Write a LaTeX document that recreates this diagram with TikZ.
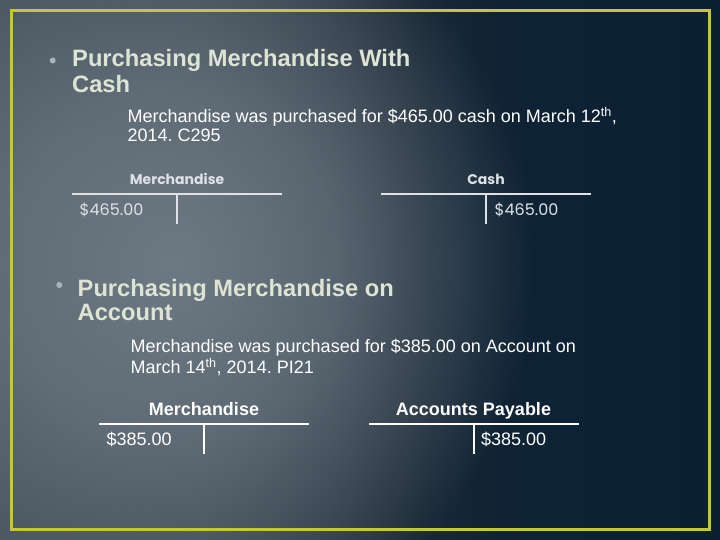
\documentclass[tikz,border=0pt]{standalone}
\usepackage{fontspec}
\setmainfont{Liberation Sans}
\newfontfamily\geofont{Poppins}
\usetikzlibrary{fadings}
\frenchspacing
\pgfdeclareradialshading{glowshade}{\pgfpoint{0bp}{0bp}}{color(0bp)=(white); color(11.25bp)=(white!72!black); color(25bp)=(black); color(50bp)=(black)}
\pgfdeclarefading{glowfade}{\pgfuseshading{glowshade}}
\definecolor{bgA}{RGB}{68,79,89}
\definecolor{bgB}{RGB}{56,68,79}
\definecolor{bgC}{RGB}{38,50,62}
\definecolor{bgD}{RGB}{26,40,54}
\definecolor{bgE}{RGB}{17,36,52}
\definecolor{bgF}{RGB}{13,34,52}
\definecolor{bgG}{RGB}{11,32,50}
\definecolor{glowcol}{RGB}{116,128,138}
\definecolor{headcol}{RGB}{221,228,212}
\definecolor{bulletcol}{RGB}{166,178,189}
\definecolor{framecol}{RGB}{198,198,62}
\definecolor{tgray}{RGB}{222,226,230}
\pgfdeclarehorizontalshading{bgshade}{100bp}{color(0bp)=(bgA); color(25bp)=(bgA); color(38.9bp)=(bgB); color(49.3bp)=(bgC); color(54.2bp)=(bgD); color(58.3bp)=(bgE); color(62.5bp)=(bgF); color(75bp)=(bgG); color(100bp)=(bgG)}
\begin{document}
\begin{tikzpicture}[x=1pt,y=-1pt,
  head/.style={font=\fontsize{23.7}{26}\selectfont\bfseries, text=headcol, anchor=base west, inner sep=0pt},
  body/.style={font=\fontsize{18}{20}\selectfont, text=white, anchor=base west, inner sep=0pt},
  geolabel/.style={font=\geofont\fontsize{14}{16}\selectfont\bfseries, text=tgray, anchor=base, inner sep=0pt},
  geoamt/.style={font=\geofont\fontsize{16}{18}\selectfont, text=tgray, anchor=base west, inner sep=0pt},
  arlabel/.style={font=\fontsize{18}{20}\selectfont\bfseries, text=white, anchor=base, inner sep=0pt},
  aramt/.style={font=\fontsize{18}{20}\selectfont, text=white, anchor=base west, inner sep=0pt},
  tthin/.style={draw=tgray, line width=1.3pt},
  tthick/.style={draw=white, line width=2pt},
  bulletdot/.style={circle, fill=bulletcol, inner sep=0pt, minimum size=6pt},
  frame/.style={draw=framecol, line width=3pt}
]
\useasboundingbox (0,0) rectangle (720,540);
\begin{scope}
\clip (0,0) rectangle (720,540);
\shade[shading=bgshade] (0,0) rectangle (720,540);
\fill[glowcol, fill opacity=0.88, path fading=glowfade] (-185,-125) rectangle (535,655);
\end{scope}
\draw[frame] (11.5,11) rectangle (709.5,529.5);

% first section
\node[bulletdot] (b1) at (52.7,60.5) {};
\node[head] (h1a) at (72,66.5) {Purchasing Merchandise With};
\node[head] (h1b) at (72,92.5) {Cash};
\node[body] (t1a) at (127.5,123) {Merchandise was purchased for \$465.00 cash on March 12\textsuperscript{th},};
\node[body] (t1b) at (127.5,141.5) {2014. C295};

\node[geolabel] (m1) at (177,185) {Merchandise};
\coordinate (m1l) at (72,194);
\coordinate (m1r) at (281.5,194);
\coordinate (m1t) at (177,194);
\coordinate (m1b) at (177,224.5);
\draw[tthin] (m1l) -- (m1r);
\draw[tthin] (m1t) -- (m1b);
\node[geoamt] (m1v) at (79.5,215.5) {\$465.00};

\node[geolabel] (c1) at (486,185) {Cash};
\coordinate (c1l) at (381,194);
\coordinate (c1r) at (590.5,194);
\coordinate (c1t) at (486,194);
\coordinate (c1b) at (486,224.5);
\draw[tthin] (c1l) -- (c1r);
\draw[tthin] (c1t) -- (c1b);
\node[geoamt] (c1v) at (494.5,215.5) {\$465.00};

% second section
\node[bulletdot] (b2) at (59.3,285) {};
\node[head] (h2a) at (77.5,296) {Purchasing Merchandise on};
\node[head] (h2b) at (77.5,320.5) {Account};
\node[body] (t2a) at (130.5,352.5) {Merchandise was purchased for \$385.00 on Account on};
\node[body] (t2b) at (130.5,373.5) {March 14\textsuperscript{th}, 2014. PI21};

\node[arlabel] (m2) at (204,415) {Merchandise};
\coordinate (m2l) at (99,423.7);
\coordinate (m2r) at (308.5,423.7);
\coordinate (m2t) at (203.5,423.7);
\coordinate (m2b) at (203.5,453.5);
\draw[tthick] (m2l) -- (m2r);
\draw[tthick] (m2t) -- (m2b);
\node[aramt] (m2v) at (106.5,445) {\$385.00};

\node[arlabel] (a2) at (473.5,415) {Accounts Payable};
\coordinate (a2l) at (369,423.7);
\coordinate (a2r) at (578.5,423.7);
\coordinate (a2t) at (473.5,423.7);
\coordinate (a2b) at (473.5,453.5);
\draw[tthick] (a2l) -- (a2r);
\draw[tthick] (a2t) -- (a2b);
\node[aramt] (a2v) at (481,445) {\$385.00};
\end{tikzpicture}
\end{document}
